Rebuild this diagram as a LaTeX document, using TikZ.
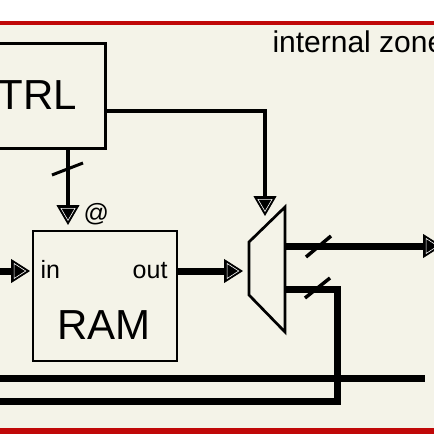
\documentclass[tikz,border=0pt]{standalone}
\usepackage{fontspec}
\setmainfont{Liberation Sans}
\usetikzlibrary{arrows.meta, calc, positioning}
\definecolor{zonebg}{RGB}{244,243,232}
\definecolor{zonered}{RGB}{192,8,8}

\begin{document}
\begin{tikzpicture}[
    x=1pt, y=-1pt,
    block/.style={draw=black, rectangle, inner sep=0pt},
    ctl/.style={-{Triangle[length=20pt, width=23pt, line width=1pt]}, line width=3.3pt},
    bus/.style={line width=7pt, line join=miter},
    busarrow/.style={bus, -{Triangle[length=19pt, width=24pt, line width=1pt]}},
    ctlshine/.style={line width=0.1pt, -{Triangle[open, length=13pt, width=15pt, line width=0.6pt, white]}},
    busshine/.style={line width=0.1pt, -{Triangle[open, length=12.5pt, width=16pt, line width=0.6pt, white]}},
    slash/.style={line width=3.5pt},
    bigtext/.style={font=\fontsize{42}{50}\selectfont},
    smalltext/.style={font=\fontsize{25}{30}\selectfont}
]
\useasboundingbox (0,0) rectangle (434,434);

% Zone background
\fill[zonebg] (-10,23) rectangle (444,431);
\draw[zonered, line width=4pt] (-10,23) -- (444,23);
\draw[zonered, line width=6pt] (-10,431) -- (444,431);
\node[anchor=base west, font=\fontsize{30}{36}\selectfont] (zone) at (269,52) {internal zone};

% Blocks
\node[block, line width=3pt, minimum width=165pt, minimum height=105pt, bigtext] (ctrl) at (22.5,95.5) {CTRL};
\node[block, line width=2pt, minimum width=144pt, minimum height=130pt] (ram) at (105,296) {};
\node[anchor=base west, smalltext] (ram-in-lbl) at (37,278) {in};
\node[anchor=base east, smalltext] (ram-out-lbl) at (171,278) {out};
\node[anchor=base, bigtext] (ram-lbl) at (104,339) {RAM};

% Multiplexer
\draw[line width=2.7pt, line join=miter] (249,242) -- (285,207) -- (285,332) -- (249,295) -- cycle;
\coordinate (mux-sel) at (265,216);
\coordinate (mux-in) at (243,271);
\coordinate (mux-out1) at (285,246);
\coordinate (mux-out2) at (285,289);

% Free ends
\coordinate (ram-addr) at (68,225);
\coordinate (ram-src) at (-10,271);
\coordinate (ram-in) at (30,271);
\coordinate (out-end) at (442,246);
\coordinate (loop-corner) at (337,401);
\coordinate (loop-end) at (-10,401);
\coordinate (wire-a) at (-10,378);
\coordinate (wire-b) at (425,378);

% Control lines
\draw[ctl] ([yshift=-15.5pt]ctrl.east) -| (mux-sel);
\draw[ctl] (ctrl.south -| ram-addr) -- (ram-addr);
\node[anchor=base west, smalltext] (addr-lbl) at (80,221) {@};

% Data buses
\draw[busarrow] (ram-src) -- (ram-in);
\draw[busarrow] (ram.east |- mux-in) -- (mux-in);
\draw[busarrow] (mux-out1) -- (out-end);
\draw[bus] (mux-out2) -| (loop-corner) -- (loop-end);
\draw[bus] (wire-a) -- (wire-b);

% White rims inside the arrow heads
\draw[ctlshine] ([yshift=20pt]mux-sel) -- ([yshift=4pt]mux-sel);
\draw[ctlshine] ([yshift=20pt]ram-addr) -- ([yshift=4pt]ram-addr);
\draw[busshine] ([xshift=-20pt]ram-in) -- ([xshift=-3.7pt]ram-in);
\draw[busshine] ([xshift=-20pt]mux-in) -- ([xshift=-3.7pt]mux-in);
\draw[busshine] ([xshift=-20pt]out-end) -- ([xshift=-3.7pt]out-end);

% Bus width marks
\draw[line width=3pt] (52,175) -- (83,163);
\draw[slash] (306,257) -- (331,236);
\draw[slash] (305,298) -- (330,278);

\end{tikzpicture}
\end{document}
